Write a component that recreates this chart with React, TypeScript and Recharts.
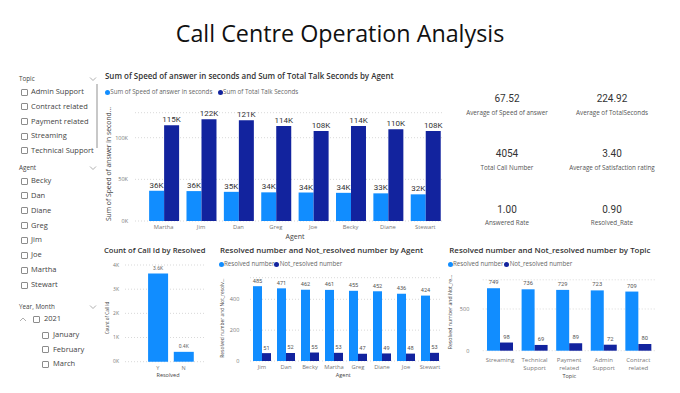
import React from "react";
import { BarChart, Bar, XAxis, YAxis, CartesianGrid, LabelList } from "recharts";

const LIGHT = "#118DFF";
const DARK = "#12239E";
const GRID = "#d9d9d9";

// slicers
const topicOptions = ["Admin Support", "Contract related", "Payment related", "Streaming", "Technical Support"];
const agentOptions = ["Becky", "Dan", "Diane", "Greg", "Jim", "Joe", "Martha", "Stewart"];
const monthOptions = ["January", "February", "March"];

// speed / talk seconds by agent
const agents = ["Martha", "Jim", "Dan", "Greg", "Joe", "Becky", "Diane", "Stewart"];
const speedOfAnswer = [36300, 35900, 35000, 34400, 34200, 33800, 33200, 32000];
const talkSeconds = [115000, 122000, 121000, 114000, 108000, 114000, 110000, 108000];

// count of call id by resolved
const resolvedFlags = ["Y", "N"];
const callCounts = [3646, 408];

// resolved by agent
const resolvedAgents = ["Jim", "Dan", "Becky", "Martha", "Greg", "Diane", "Joe", "Stewart"];
const resolvedByAgent = [485, 471, 462, 461, 455, 452, 436, 424];
const notResolvedByAgent = [51, 52, 55, 53, 47, 49, 48, 53];

// resolved by topic
const topics = ["Streaming", "Technical Support", "Payment related", "Admin Support", "Contract related"];
const resolvedByTopic = [749, 736, 729, 723, 709];
const notResolvedByTopic = [98, 69, 89, 72, 80];

// cards
const kpiValues = ["67.52", "224.92", "4054", "3.40", "1.00", "0.90"];
const kpiLabels = [
  "Average of Speed of answer",
  "Average of TotalSeconds",
  "Total Call Number",
  "Average of Satisfaction rating",
  "Answered Rate",
  "Resolved_Rate",
];

const speedData = agents.map((a, i) => ({ agent: a, speed: speedOfAnswer[i], talk: talkSeconds[i] }));
const countData = resolvedFlags.map((r, i) => ({ resolved: r, count: callCounts[i] }));
const agentResolvedData = resolvedAgents.map((a, i) => ({ agent: a, res: resolvedByAgent[i], notRes: notResolvedByAgent[i] }));
const topicData = topics.map((t, i) => ({ topic: t, res: resolvedByTopic[i], notRes: notResolvedByTopic[i] }));

const SANS = "'Open Sans', sans-serif";
const NUM = "Roboto, sans-serif";

const Txt = (props: any) => {
  const { x, y, size, color = "#333", weight = 400, anchor = "start", family = SANS, children } = props;
  const tx = anchor === "middle" ? "-50%" : anchor === "end" ? "-100%" : "0";
  return (
    <div
      style={{
        position: "absolute",
        left: x,
        top: y,
        transform: `translate(${tx}, -50%)`,
        fontSize: size,
        color,
        fontWeight: weight,
        fontFamily: family,
        lineHeight: 1,
        whiteSpace: "nowrap",
      }}
    >
      {children}
    </div>
  );
};

const RotTxt = (props: any) => {
  const { x, y, size, color = "#444", children } = props;
  return (
    <div
      style={{
        position: "absolute",
        left: x,
        top: y,
        transform: "translate(-50%, -50%) rotate(-90deg)",
        fontSize: size,
        color,
        fontFamily: SANS,
        lineHeight: 1,
        whiteSpace: "nowrap",
      }}
    >
      {children}
    </div>
  );
};

const Box = ({ x, y }: any) => (
  <div
    style={{
      position: "absolute",
      left: x,
      top: y - 3.5,
      width: 5,
      height: 5,
      border: "1px solid #8c8c8c",
      borderRadius: 1,
      background: "#fff",
    }}
  />
);

const Chevron = ({ x, y, up }: any) => (
  <svg style={{ position: "absolute", left: x - 4, top: y - 3 }} width={8} height={6}>
    <polyline
      points={up ? "1,5 4,2 7,5" : "1,1.5 4,4.5 7,1.5"}
      fill="none"
      stroke="#999"
      strokeWidth={0.8}
    />
  </svg>
);

const LegendItem = ({ x, y, color, label }: any) => (
  <>
    <div
      style={{
        position: "absolute",
        left: x - 2.5,
        top: y - 2.5,
        width: 5,
        height: 5,
        borderRadius: "50%",
        background: color,
      }}
    />
    <Txt x={x + 3} y={y} size={6.2} color="#666">
      {label}
    </Txt>
  </>
);

const kFmt = (v: any) => `${Math.round(Number(v) / 1000)}K`;
const kTick = (v: any) => `${Math.round(Number(v) / 1000)}K`;
const k1Fmt = (v: any) => `${(Number(v) / 1000).toFixed(1)}K`;

const TopicTick = (props: any) => {
  const { x, y, payload } = props;
  const s: string = payload.value;
  const idx = s.indexOf(" ");
  const lines = idx > 0 ? [s.slice(0, idx), s.slice(idx + 1)] : [s];
  return (
    <g transform={`translate(${x},${y})`}>
      {lines.map((l, i) => (
        <text key={i} x={0} y={11.4 + i * 8} textAnchor="middle" fontSize={6} fill="#777" fontFamily={SANS}>
          {l}
        </text>
      ))}
    </g>
  );
};

const tickStyle = (size: number) => ({ fontSize: size, fill: "#777", fontFamily: SANS });

export default function App() {
  return (
    <div
      style={{
        position: "fixed",
        left: 0,
        top: 0,
        width: 680,
        height: 393,
        background: "#fff",
        overflow: "hidden",
        fontFamily: SANS,
      }}
    >
      <Txt x={340} y={34} size={23.3} color="#111" anchor="middle">
        Call Centre Operation Analysis
      </Txt>

      {/* slicers */}
      <Txt x={19} y={79} size={6.3} color="#444">Topic</Txt>
      <Chevron x={93} y={79} />
      {topicOptions.map((t, i) => (
        <React.Fragment key={t}>
          <Box x={20.5} y={92.3 + i * 14.67} />
          <Txt x={31} y={92.3 + i * 14.67} size={7.5} color="#444">{t}</Txt>
        </React.Fragment>
      ))}
      <div style={{ position: "absolute", left: 95.5, top: 84, width: 2.5, height: 64, background: "#c8c8c8" }} />
      <Txt x={19} y={168.3} size={6.3} color="#444">Agent</Txt>
      <Chevron x={93} y={168.3} />
      {agentOptions.map((a, i) => (
        <React.Fragment key={a}>
          <Box x={20.5} y={181 + i * 14.86} />
          <Txt x={31} y={181 + i * 14.86} size={7.5} color="#444">{a}</Txt>
        </React.Fragment>
      ))}
      <Txt x={19} y={306.7} size={6.3} color="#444">Year, Month</Txt>
      <Chevron x={93} y={306.7} />
      <Chevron x={23} y={319.3} up />
      <Box x={33} y={319.3} />
      <Txt x={44} y={319.3} size={7.5} color="#444">2021</Txt>
      {monthOptions.map((m, i) => (
        <React.Fragment key={m}>
          <Box x={41.5} y={335.3 + i * 14.35} />
          <Txt x={53} y={335.3 + i * 14.35} size={7.5} color="#444">{m}</Txt>
        </React.Fragment>
      ))}

      {/* speed of answer / talk seconds */}
      <Txt x={105} y={77.3} size={7.95} color="#333" weight={600}>
        Sum of Speed of answer in seconds and Sum of Total Talk Seconds by Agent
      </Txt>
      <LegendItem x={107.3} y={92.3} color={LIGHT} label="Sum of Speed of answer in seconds" />
      <LegendItem x={220} y={92.3} color={DARK} label="Sum of Total Talk Seconds" />
      <RotTxt x={109} y={164} size={6.8}>Sum of Speed of answer in second...</RotTxt>
      <Txt x={295} y={236} size={7} color="#444" anchor="middle">Agent</Txt>
      <div style={{ position: "absolute", left: 95, top: 100 }}>
        <BarChart
          width={355}
          height={140}
          data={speedData}
          margin={{ top: 12.7, right: 6, bottom: 0, left: 0 }}
          barCategoryGap="11%"
          barGap={0}
        >
          <CartesianGrid vertical={false} stroke={GRID} strokeDasharray="1 2" />
          <XAxis
            dataKey="agent"
            height={19}
            axisLine={false}
            tickLine={false}
            tickSize={0}
            tickMargin={3.6}
            interval={0}
            padding={{ left: 10, right: 0 }}
            tick={tickStyle(5.8)}
          />
          <YAxis
            width={40}
            domain={[0, 130000]}
            ticks={[0, 50000, 100000]}
            axisLine={false}
            tickLine={false}
            tickSize={0}
            tickMargin={7}
            tickFormatter={kTick}
            tick={tickStyle(5.5)}
          />
          <Bar dataKey="speed" fill={LIGHT} isAnimationActive={false}>
            <LabelList dataKey="speed" position="top" offset={3} formatter={kFmt} fontSize={8} fill="#333" fontFamily={NUM} />
          </Bar>
          <Bar dataKey="talk" fill={DARK} isAnimationActive={false}>
            <LabelList dataKey="talk" position="top" offset={3} formatter={kFmt} fontSize={8} fill="#333" fontFamily={NUM} />
          </Bar>
        </BarChart>
      </div>

      {/* KPI cards */}
      {kpiValues.map((v, i) => {
        const cx = i % 2 === 0 ? 507 : 612;
        const cy = 99 + Math.floor(i / 2) * 55.3;
        return (
          <React.Fragment key={kpiLabels[i]}>
            <Txt x={cx} y={cy} size={10} color="#333" anchor="middle" family={NUM}>{v}</Txt>
            <Txt x={cx} y={cy + 13.5} size={6.3} color="#555" anchor="middle">{kpiLabels[i]}</Txt>
          </React.Fragment>
        );
      })}

      {/* count of call id by resolved */}
      <Txt x={104} y={250.7} size={7.6} color="#333" weight={600}>Count of Call Id by Resolved</Txt>
      <RotTxt x={107} y={318} size={4.6}>Count of Call Id</RotTxt>
      <Txt x={168} y={375.7} size={5.5} color="#444" anchor="middle">Resolved</Txt>
      <div style={{ position: "absolute", left: 100, top: 255 }}>
        <BarChart
          width={110}
          height={125}
          data={countData}
          margin={{ top: 10, right: 5, bottom: 0, left: 0 }}
          barCategoryGap="12%"
        >
          <CartesianGrid vertical={false} stroke={GRID} strokeDasharray="1 2" />
          <XAxis
            dataKey="resolved"
            height={18.3}
            axisLine={false}
            tickLine={false}
            tickSize={0}
            tickMargin={4}
            padding={{ left: 20, right: 8.6 }}
            tick={tickStyle(5.5)}
          />
          <YAxis
            width={25}
            domain={[0, 4000]}
            ticks={[0, 1000, 2000, 3000, 4000]}
            axisLine={false}
            tickLine={false}
            tickSize={0}
            tickMargin={6}
            tickFormatter={kTick}
            tick={tickStyle(5)}
          />
          <Bar dataKey="count" fill={LIGHT} isAnimationActive={false}>
            <LabelList dataKey="count" position="top" offset={3.5} formatter={k1Fmt} fontSize={5} fill="#666" fontFamily={NUM} />
          </Bar>
        </BarChart>
      </div>

      {/* resolved by agent */}
      <Txt x={220} y={250.7} size={7.9} color="#333" weight={600}>Resolved number and Not_resolved number by Agent</Txt>
      <LegendItem x={221} y={264.3} color={LIGHT} label="Resolved number" />
      <LegendItem x={276.7} y={264.3} color={DARK} label="Not_resolved number" />
      <RotTxt x={221.7} y={318} size={4.9}>Resolved number and Not_resolv...</RotTxt>
      <Txt x={343.3} y={375.7} size={5.5} color="#444" anchor="middle">Agent</Txt>
      <div style={{ position: "absolute", left: 215, top: 270 }}>
        <BarChart
          width={235}
          height={110}
          data={agentResolvedData}
          margin={{ top: 7.7, right: 8, bottom: 0, left: 0 }}
          barCategoryGap="12.5%"
          barGap={0}
        >
          <CartesianGrid vertical={false} stroke={GRID} strokeDasharray="1 2" />
          <XAxis
            dataKey="agent"
            height={19}
            axisLine={false}
            tickLine={false}
            tickSize={0}
            tickMargin={4}
            interval={0}
            tick={tickStyle(5.8)}
          />
          <YAxis
            width={35}
            domain={[0, 540]}
            ticks={[0, 200, 400]}
            axisLine={false}
            tickLine={false}
            tickSize={0}
            tickMargin={10.7}
            tick={tickStyle(5.5)}
          />
          <Bar dataKey="res" fill={LIGHT} isAnimationActive={false}>
            <LabelList dataKey="res" position="top" offset={3.5} fontSize={5.6} fill="#555" fontFamily={NUM} />
          </Bar>
          <Bar dataKey="notRes" fill={DARK} isAnimationActive={false}>
            <LabelList dataKey="notRes" position="top" offset={3.5} fontSize={5.6} fill="#555" fontFamily={NUM} />
          </Bar>
        </BarChart>
      </div>

      {/* resolved by topic */}
      <Txt x={449.3} y={250.7} size={7.9} color="#333" weight={600}>Resolved number and Not_resolved number by Topic</Txt>
      <LegendItem x={450} y={264.3} color={LIGHT} label="Resolved number" />
      <LegendItem x={506.7} y={264.3} color={DARK} label="Not_resolved number" />
      <RotTxt x={450.5} y={311.7} size={5.2}>Resolved number and Not_re...</RotTxt>
      <Txt x={569.3} y={376.8} size={5.5} color="#444" anchor="middle">Topic</Txt>
      <div style={{ position: "absolute", left: 445, top: 270 }}>
        <BarChart
          width={235}
          height={110}
          data={topicData}
          margin={{ top: 9.8, right: 24.4, bottom: 0, left: 0 }}
          barCategoryGap="12.5%"
          barGap={0}
        >
          <CartesianGrid vertical={false} stroke={GRID} strokeDasharray="1 2" />
          <XAxis
            dataKey="topic"
            height={29.3}
            axisLine={false}
            tickLine={false}
            tickSize={0}
            tickMargin={0}
            interval={0}
            tick={<TopicTick />}
          />
          <YAxis
            width={37.7}
            domain={[0, 850]}
            ticks={[0, 500]}
            axisLine={false}
            tickLine={false}
            tickSize={0}
            tickMargin={13.4}
            tick={tickStyle(5.5)}
          />
          <Bar dataKey="res" fill={LIGHT} isAnimationActive={false}>
            <LabelList dataKey="res" position="top" offset={4} fontSize={5.8} fill="#555" fontFamily={NUM} />
          </Bar>
          <Bar dataKey="notRes" fill={DARK} isAnimationActive={false}>
            <LabelList dataKey="notRes" position="top" offset={4} fontSize={5.8} fill="#555" fontFamily={NUM} />
          </Bar>
        </BarChart>
      </div>
    </div>
  );
}
